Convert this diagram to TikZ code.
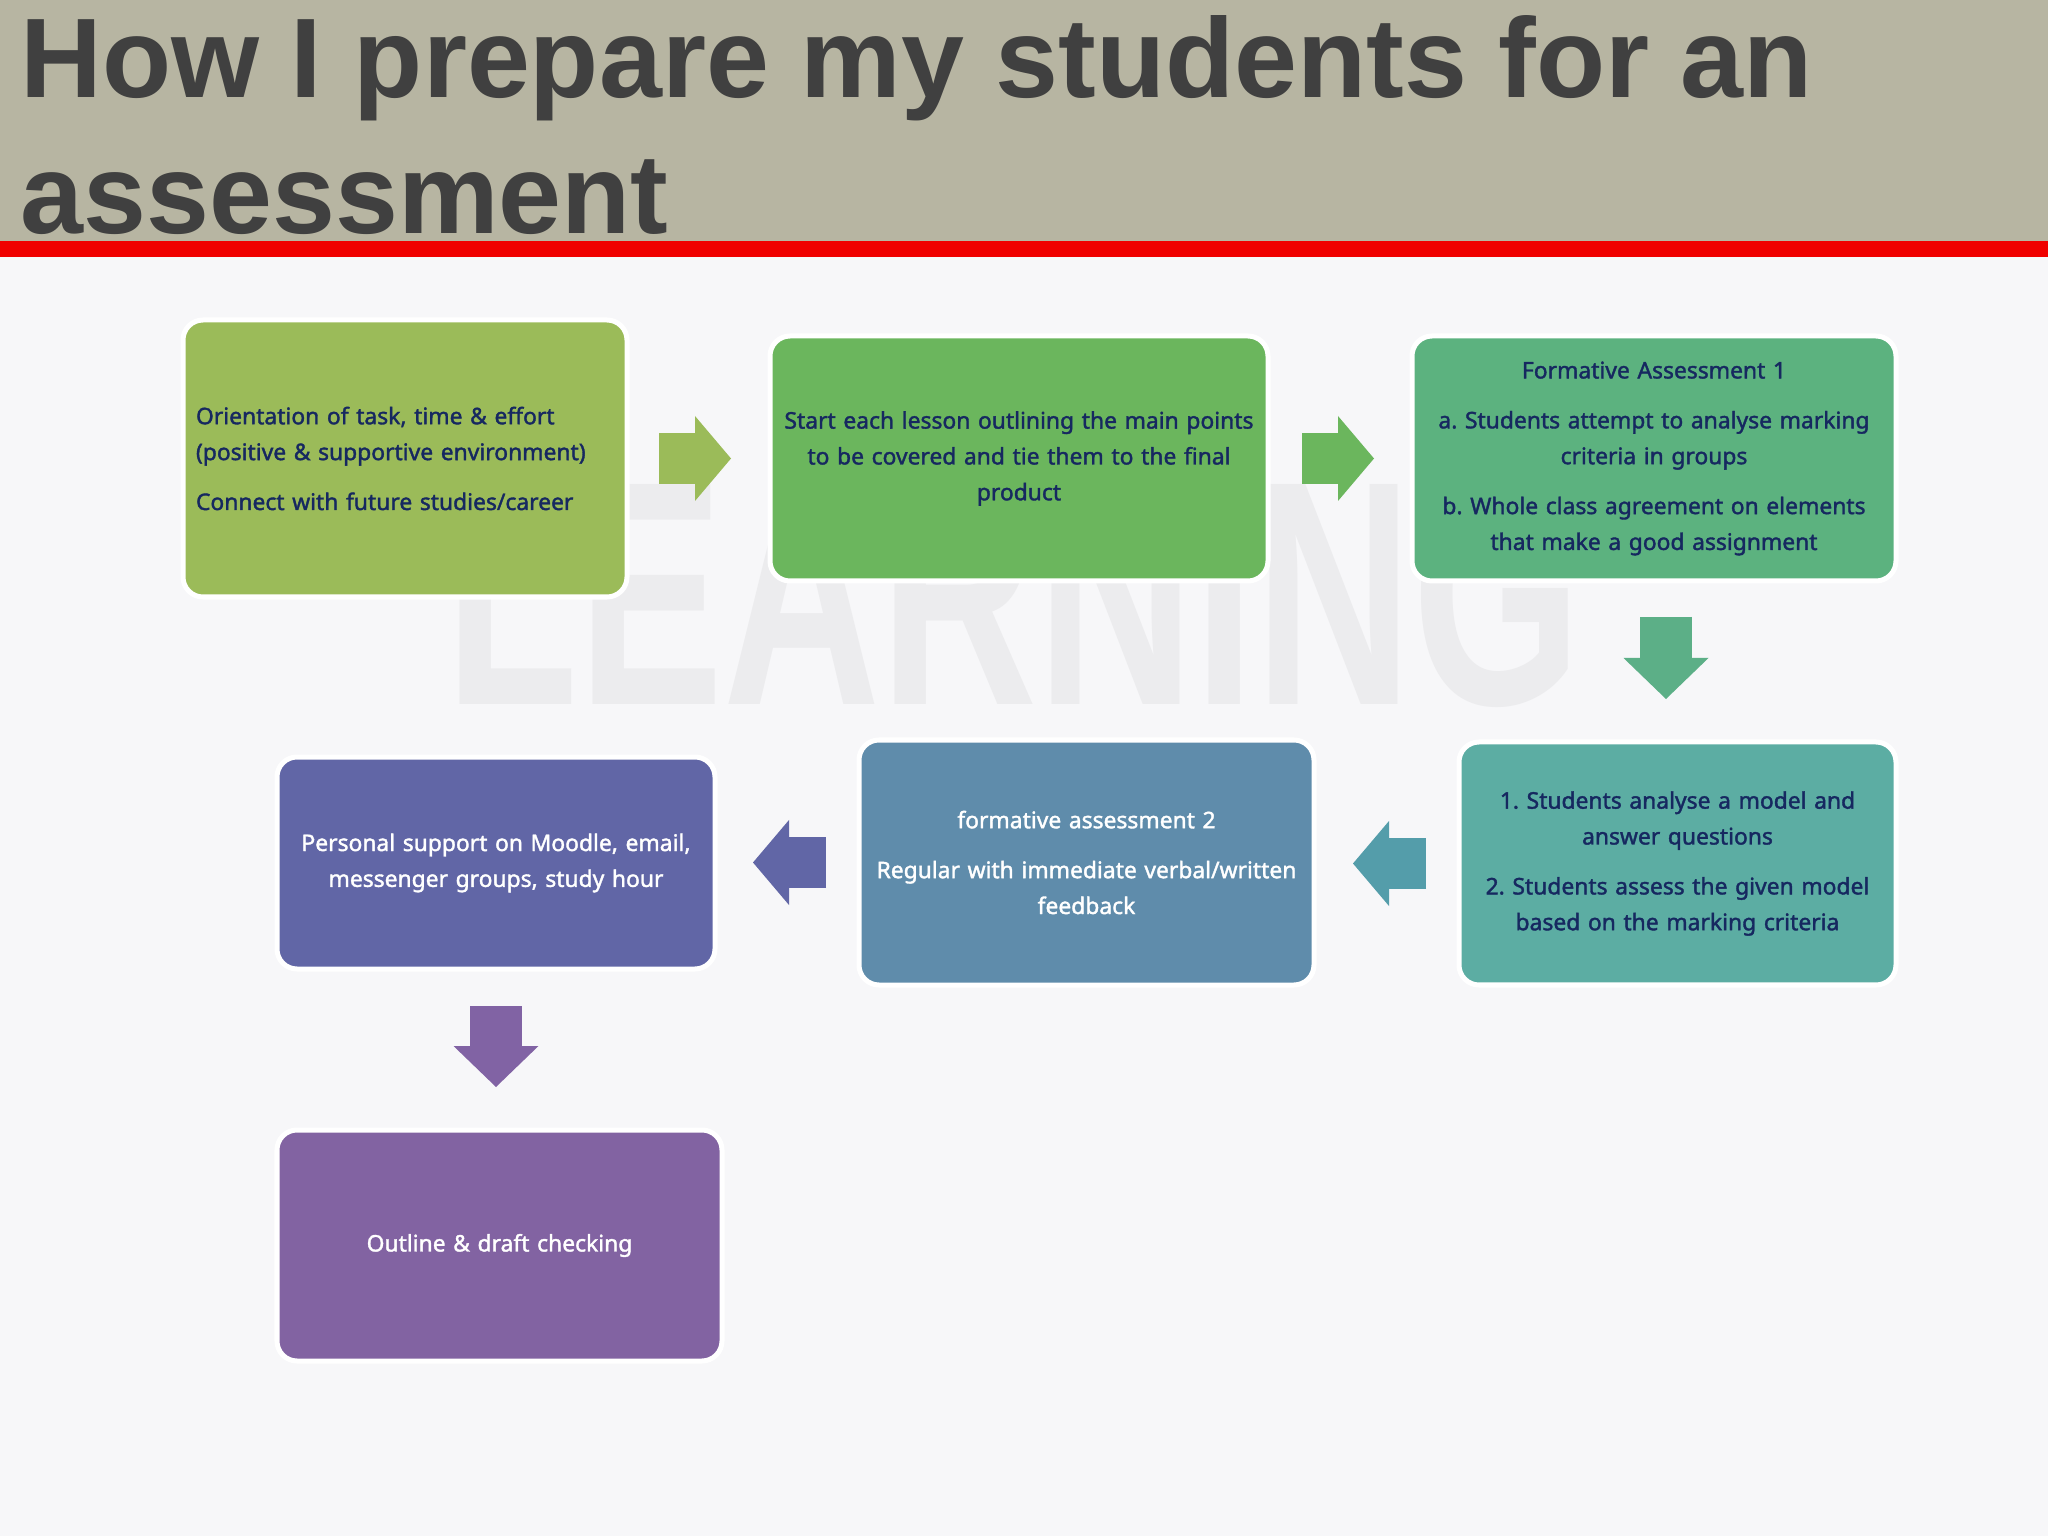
\documentclass[tikz,border=0pt]{standalone}
\usepackage{fontspec}
\setmainfont{Noto Sans}[AutoFakeBold=1.6]
\newfontfamily\titlefont{Liberation Sans}
\usetikzlibrary{arrows.meta}

\definecolor{pagebg}{RGB}{247,247,249}
\definecolor{headgray}{RGB}{183,181,162}
\definecolor{titlegray}{RGB}{64,64,64}
\definecolor{barred}{RGB}{240,0,0}
\definecolor{markgray}{RGB}{236,236,238}
\definecolor{navy}{RGB}{22,40,96}
\definecolor{boxA}{RGB}{155,187,89}
\definecolor{boxB}{RGB}{107,182,93}
\definecolor{boxC}{RGB}{92,178,127}
\definecolor{boxD}{RGB}{92,173,163}
\definecolor{boxE}{RGB}{95,140,171}
\definecolor{boxF}{RGB}{97,102,166}
\definecolor{boxG}{RGB}{130,99,162}
\definecolor{arrC}{RGB}{92,175,135}
\definecolor{arrD}{RGB}{84,157,170}
\definecolor{arrG}{RGB}{129,99,164}

\begin{document}
\begin{tikzpicture}[line join=miter,
		stepbox/.style={rectangle, rounded corners=0.2cm, draw=white, line width=0.05cm, outer sep=0pt, inner xsep=0.1cm, inner ysep=0pt, align=center, text=navy, font=\fontsize{6.5}{10.2}\selectfont\bfseries\frenchspacing},
		blockarrow/.style={line width=0.51cm, -{Triangle[length=0.36cm, width=0.85cm, line width=0pt]}},
		blockdown/.style={line width=0.52cm, -{Triangle[length=0.41cm, width=0.85cm, line width=0pt]}}]
		\useasboundingbox (0,0) rectangle (20.48,-15.36);
		\fill[pagebg] (0,0) rectangle (20.48,-15.36);
		
		% Header
		\fill[headgray] (0,0) rectangle (20.48,-2.42);
		\fill[barred] (0,-2.41) rectangle (20.48,-2.57);
		\node[anchor=base west, inner sep=0pt, text=titlegray, font=\titlefont\bfseries\fontsize{32.2}{38}\selectfont] (title) at (0.2,-0.98) {How I prepare my students for an};
		\node[anchor=base west, inner sep=0pt, text=titlegray, font=\titlefont\bfseries\fontsize{32.2}{38}\selectfont] (title2) at (0.2,-2.34) {assessment};
		
		% Watermark
		\node[anchor=base west, inner sep=0pt, text=markgray, font=\titlefont\bfseries\fontsize{91}{91}\selectfont] (mark) at (4.45,-7.05) {\scalebox{0.68}[1]{LEARNING}};
		
		% Top row
		\node[stepbox, fill=boxA, align=left, inner xsep=0.13cm, text width=4.18cm, minimum height=2.77cm] (orient) at (4.05,-4.585) {Orientation of task, time \& effort\\(positive \& supportive environment)\\[4pt]Connect with future studies/career};
		\node[stepbox, fill=boxB, text width=4.78cm, minimum height=2.45cm] (lesson) at (10.19,-4.585) {Start each lesson outlining the main points\\to be covered and tie them to the final\\product};
		\node[stepbox, fill=boxC, text width=4.64cm, minimum height=2.45cm] (fa1) at (16.54,-4.585) {Formative Assessment 1\\[4pt]a. Students attempt to analyse marking\\criteria in groups\\[4pt]b. Whole class agreement on elements\\that make a good assignment};
		
		% Middle row
		\node[stepbox, fill=boxD, text width=4.17cm, minimum height=2.43cm] (model) at (16.775,-8.635) {1. Students analyse a model and\\answer questions\\[4pt]2. Students assess the given model\\based on the marking criteria};
		\node[stepbox, fill=boxE, text=white, text width=4.35cm, minimum height=2.45cm] (fa2) at (10.865,-8.625) {formative assessment 2\\[4pt]Regular with immediate verbal/written\\feedback};
		\node[stepbox, fill=boxF, text=white, text width=4.18cm, minimum height=2.12cm] (support) at (4.96,-8.63) {Personal support on Moodle, email,\\messenger groups, study hour};
		
		% Bottom
		\node[stepbox, fill=boxG, text=white, text width=4.25cm, minimum height=2.31cm] (outline) at (4.995,-12.455) {Outline \& draft checking};
		
		% Arrows
		\draw[blockarrow, boxA, shorten <=0.32cm, shorten >=0.39cm] (orient.east) -- (lesson.west);
		\draw[blockarrow, boxB, shorten <=0.34cm, shorten >=0.38cm] (lesson.east) -- (fa1.west);
		\draw[blockdown, arrC, shorten <=0.36cm, shorten >=0.43cm] ([xshift=0.12cm]fa1.south) -- ([xshift=0.12cm]fa1.south |- model.north);
		\draw[blockarrow, arrD, shorten <=0.33cm, shorten >=0.39cm] (model.west) -- (model.west -| fa2.east);
		\draw[blockarrow, boxF, shorten <=0.33cm, shorten >=0.38cm] (fa2.west) -- (fa2.west -| support.east);
		\draw[blockdown, arrG, shorten <=0.37cm, shorten >=0.43cm] (support.south) -- (support.south |- outline.north);
		
	\end{tikzpicture}
\end{document}
